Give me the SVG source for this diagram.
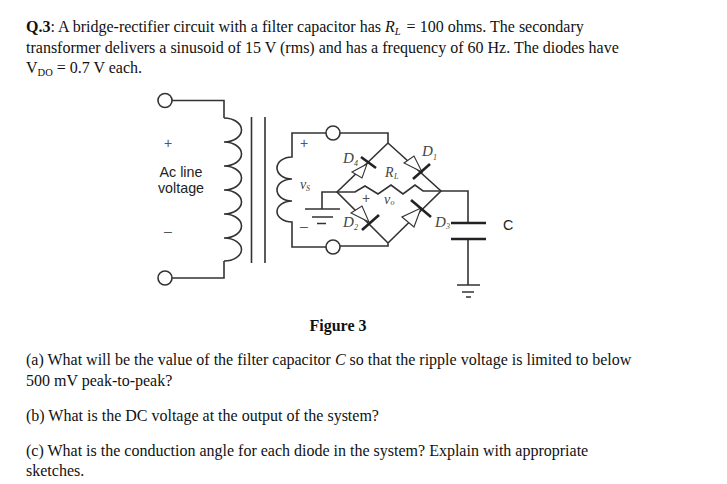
<svg xmlns="http://www.w3.org/2000/svg" width="727" height="484" viewBox="0 0 727 484">
<style>
.t{font-family:"Liberation Serif",serif;font-size:16px;fill:#111}
.s{font-family:"Liberation Sans",sans-serif;font-size:14.300px;fill:#222}
.m{font-family:"Liberation Sans",sans-serif;font-size:14px;fill:#555}
.i{font-family:"Liberation Serif",serif;font-style:italic;fill:#444}
.w{fill:none;stroke:#333;stroke-width:1.6}
.b{fill:none;stroke:#222;stroke-width:2.6}
.d{fill:#fff;stroke:#333;stroke-width:1.1}
</style>
<rect width="727" height="484" fill="#fff"/>
<g id="question">
<text class="t" x="26" y="32"><tspan font-weight="bold">Q.3</tspan>: A bridge-rectifier circuit with a filter capacitor has <tspan font-style="italic">R</tspan><tspan font-style="italic" font-size="10.500" dy="3">L</tspan><tspan dy="-3" dx="2"> = 100 ohms. The secondary</tspan></text>
<text class="t" x="26" y="53">transformer delivers a sinusoid of 15 V (rms) and has a frequency of 60 Hz. The diodes have</text>
<text class="t" x="26" y="73">V<tspan font-size="10.500" dy="3">DO</tspan><tspan dy="-3"> = 0.7 V each.</tspan></text>
</g>
<g id="connectors">
<path class="w" d="M172 100.500H224V118M224 261V278H172"/>
<path class="w" d="M224 118A17.500 12 0 0 1 224 142A17.500 12 0 0 1 224 166A17.500 12 0 0 1 224 190A17.500 12 0 0 1 224 214A17.500 12 0 0 1 224 238A17.500 11.500 0 0 1 224 261"/>
<path class="w" d="M251.500 117V263M265 117V263"/>
<path class="w" d="M326 133H292V157A15 11 0 0 0 292 179A15 11 0 0 0 292 201A15 10.500 0 0 0 292 222V247H326"/>
<path class="w" d="M340 133H388V143L441 191L388 243V246H340M388 143L337 192L388 243"/>
<path class="w" d="M337 192H322V209M305 209H340M312 217H333M317 223.500H326"/>
<path class="w" d="M337 192H355L365 186L378 194L391 185L403 194L415 185L423 191H441"/>
<path class="w" d="M441 191H468V223M468 239V285M457 285H480M462 292H474M466 297H471"/>
</g>
<g id="terminal-1"><circle class="w" cx="165" cy="100.500" r="7"/></g>
<g id="terminal-2"><circle class="w" cx="165" cy="278" r="7"/></g>
<g id="terminal-3"><circle class="w" cx="333" cy="133" r="7"/></g>
<g id="terminal-4"><circle class="w" cx="333" cy="247" r="7"/></g>
<g id="D4"><path class="d" d="M352 172L367 164L362 178Z"/><path class="b" d="M361 157L376 168"/><text class="i" x="343" y="163" font-size="15">D</text><text class="i" x="354" y="166" font-size="8">4</text></g>
<g id="D2"><path class="d" d="M351 213L362 206L369 222Z"/><path class="b" d="M362 230L379 215"/><text class="i" x="343" y="227" font-size="15">D</text><text class="i" x="354" y="230" font-size="8">2</text></g>
<g id="D1"><path class="d" d="M404 163L414 156L422 172Z"/><path class="b" d="M413 179L430 164"/><text class="i" x="422" y="156" font-size="15">D</text><text class="i" x="433" y="160" font-size="8">1</text></g>
<g id="D3"><path class="d" d="M402 217L414 227L421 208Z"/><path class="b" d="M411 200L431 217"/><text class="i" x="435" y="227" font-size="15">D</text><text class="i" x="446" y="229" font-size="8">3</text></g>
<g id="capacitor"><path class="b" d="M451 223H486M451 239H486"/><text class="s" x="503" y="230">C</text></g>
<g id="labels">
<text class="m" x="164" y="148">+</text>
<text class="s" x="181" y="177" text-anchor="middle">Ac line</text>
<text class="s" x="181" y="193" text-anchor="middle">voltage</text>
<text class="m" x="164" y="236">–</text>
<text class="m" x="300" y="148">+</text>
<text class="m" x="300" y="231">–</text>
<text class="i" x="300" y="189" font-size="14">v</text><text class="i" x="306" y="191" font-size="8">S</text>
<text class="i" x="385" y="177" font-size="14">R</text><text class="i" x="394" y="179" font-size="8">L</text>
<text class="m" x="362" y="203">+</text>
<text class="i" x="384" y="204" font-size="14">v</text><text class="i" x="390.500" y="205" font-size="8">o</text>
</g>
<g id="body">
<text class="t" x="338" y="331" text-anchor="middle" font-weight="bold">Figure 3</text>
<text class="t" x="26" y="365">(a) What will be the value of the filter capacitor <tspan font-style="italic">C</tspan> so that the ripple voltage is limited to below</text>
<text class="t" x="26" y="386">500 mV peak-to-peak?</text>
<text class="t" x="26" y="421">(b) What is the DC voltage at the output of the system?</text>
<text class="t" x="26" y="456">(c) What is the conduction angle for each diode in the system? Explain with appropriate</text>
<text class="t" x="26" y="476">sketches.</text>
</g>
</svg>
